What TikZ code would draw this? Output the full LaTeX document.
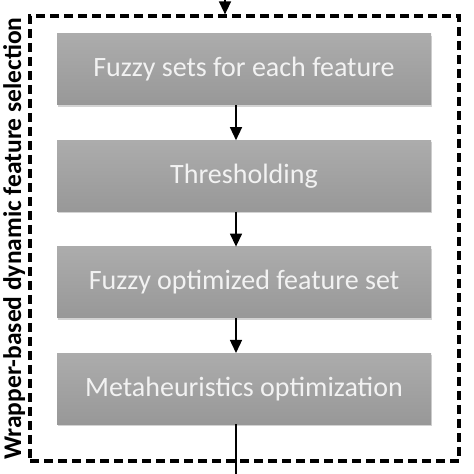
\documentclass[tikz,border=0pt]{standalone}
\usepackage{fontspec}
\setmainfont{Carlito}
\usetikzlibrary{shadows, arrows.meta, positioning, calc, fit}
\definecolor{boxtop}{RGB}{172,172,172}
\definecolor{boxbot}{RGB}{152,152,152}
\definecolor{boxtext}{RGB}{242,242,242}
\begin{document}
\begin{tikzpicture}[x=1pt, y=1pt,
  stepbox/.style={rectangle, minimum width=374pt, minimum height=71pt,
    top color=boxtop, bottom color=boxbot, text=boxtext,
    font=\fontsize{28}{32}\selectfont,
    drop shadow={shadow xshift=1pt, shadow yshift=-2pt, opacity=0.35}},
  flow/.style={line width=1.4pt, -{Triangle[width=12pt, length=13pt]}},
  frame/.style={draw, line width=3.2pt, dash pattern=on 9pt off 5pt, inner sep=0pt}]
\useasboundingbox (0,0) rectangle (474,474);
\node[stepbox] (fuzzy) at (244,404.5) {Fuzzy sets for each feature};
\node[stepbox, below=35pt of fuzzy] (thresh) {Thresholding};
\node[stepbox, below=35pt of thresh] (optset) {Fuzzy optimized feature set};
\node[stepbox, below=35pt of optset] (meta) {Metaheuristics optimization};
% dashed wrapper
\coordinate (fsw) at (30,13);
\coordinate (fne) at (459,458);
\node[frame, fit=(fsw)(fne)] (wrapper) {};
\node[rotate=90, anchor=south, inner sep=3pt, font=\bfseries\fontsize{25.5}{28}\selectfont]
  (label) at (wrapper.west) {Wrapper-based dynamic feature selection};
% arrows
\coordinate (in) at (225,480);
\coordinate (out) at (236,-6);
\draw[flow] (in) -- (in |- wrapper.north);
\foreach \a / \b in {fuzzy/thresh, thresh/optset, optset/meta} {
\draw[flow] ([xshift=-8pt]\a.south) -- ([xshift=-8pt]\b.north);
}
\draw[line width=1.4pt] ([xshift=-8pt]meta.south) -- (out);
\end{tikzpicture}
\end{document}
